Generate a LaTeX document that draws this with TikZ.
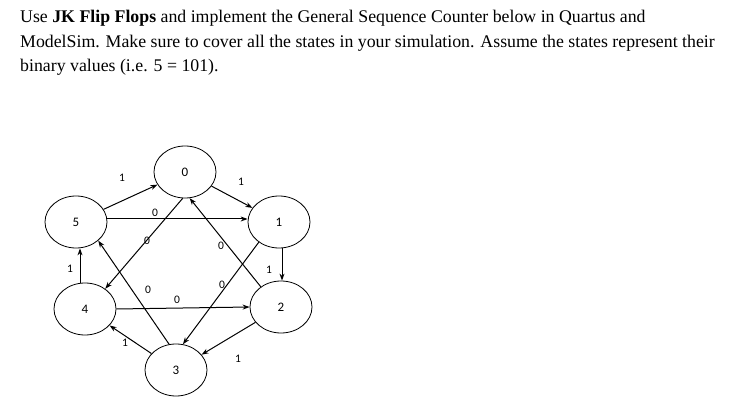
\documentclass[tikz,border=0pt]{standalone}
\usepackage{fontspec}
\setmainfont{Liberation Serif}
\newfontfamily\lblfont{Carlito}
\usetikzlibrary{shapes.geometric,arrows.meta}
\begin{document}
\begin{tikzpicture}[x=1pt,y=-1pt,
  st/.style={draw,ellipse,line width=0.8pt,minimum width=62pt,minimum height=52pt,inner sep=0pt,font=\lblfont\fontsize{13}{13}\selectfont},
  arr/.style={-{Stealth[length=7pt,width=5pt]},line width=1pt},
  lbl/.style={font=\lblfont\fontsize{11.5}{12}\selectfont,inner sep=0pt}]
\useasboundingbox (0,0) rectangle (737,411);
\node[anchor=north west,align=left,inner sep=0pt,font=\fontsize{17.8}{24.5}\selectfont] (txt) at (20,10)
 {Use \textbf{JK Flip Flops} and implement the General Sequence Counter below in Quartus and\\
 ModelSim. Make sure to cover all the states in your simulation. Assume the states represent their\\
 binary values (i.e. 5 = 101).};
\node[st] (n0) at (185,172) {0};
\node[st] (n1) at (279,222) {1};
\node[st] (n2) at (281,307) {2};
\node[st] (n3) at (176,370) {3};
\node[st] (n4) at (85,309) {4};
\node[st] (n5) at (76,222) {5};
\draw[arr] (n5) -- (n0);
\draw[arr] (n0) -- (n1);
\draw[arr] (n5.east) ++(0,-3) coordinate (a5) -- (n1.west |- a5);
\draw[arr] (n4.east) -- (n2.west);
\draw[arr] (n0.-95) -- (n4.45);
\draw[arr] (n2.135) -- (n0.-80);
\draw[arr] (n1.225) -- (n3.75);
\draw[arr] (n3.105) -- (n5.-40);
\draw[arr] (n1.south) ++(3,0) coordinate (b1) -- (n2.north -| b1);
\draw[arr] (n4.north) ++(-5,0) coordinate (b4) -- (n5.south -| b4);
\draw[arr] (n3) -- (n4);
\draw[arr] (n2) -- (n3);
\node[lbl] (l50) at (122,178) {1};
\node[lbl] (l01) at (241,182) {1};
\node[lbl] (l51) at (155,213) {0};
\node[lbl] (l04) at (147,241) {0};
\node[lbl] (l20) at (221,246) {0};
\node[lbl] (l13) at (222,285) {0};
\node[lbl] (l35) at (148,290) {0};
\node[lbl] (l42) at (177,300) {0};
\node[lbl] (l12) at (269,270) {1};
\node[lbl] (l45) at (70,269) {1};
\node[lbl] (l34) at (125,343) {1};
\node[lbl] (l23) at (238,359) {1};
\end{tikzpicture}
\end{document}
